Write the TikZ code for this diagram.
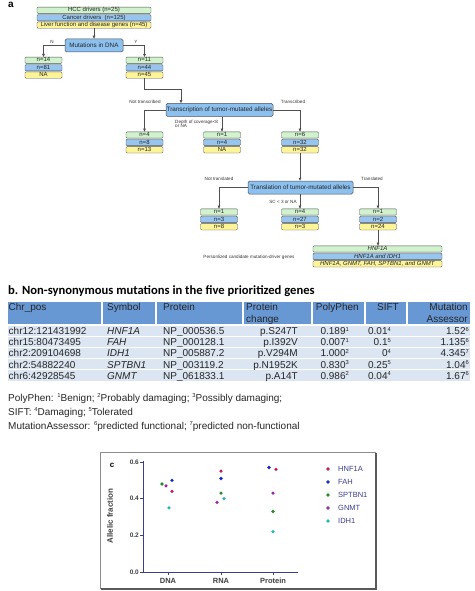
\documentclass[tikz,border=0pt]{standalone}
\usepackage{fontspec}
\setmainfont{Liberation Sans}
\newfontfamily\titlefont{Carlito}
\usetikzlibrary{arrows.meta,positioning}
\definecolor{rowgreen}{RGB}{208,242,204}
\definecolor{rowblue}{RGB}{150,198,240}
\definecolor{rowyellow}{RGB}{252,244,150}
\definecolor{stepblue}{RGB}{140,192,238}
\definecolor{edgegray}{RGB}{80,80,80}
\definecolor{headblue}{RGB}{104,152,212}
\definecolor{cellblue}{RGB}{220,230,242}
\definecolor{axisnavy}{RGB}{58,62,140}
\definecolor{cHNF}{RGB}{190,30,90}
\definecolor{cFAH}{RGB}{20,40,200}
\definecolor{cSPT}{RGB}{40,140,40}
\definecolor{cGNMT}{RGB}{150,40,170}
\definecolor{cIDH}{RGB}{40,180,180}
\newcommand{\setfsz}[1]{\fontsize{#1}{#1}\selectfont}
\newcommand{\tsup}[1]{\raisebox{3.4pt}{\setfsz{5.8}#1}}
% three stacked count rows: green, blue, yellow
\newcommand{\countstack}[6][37pt]{%
  \node[cnt, minimum width=#1, fill=rowgreen] (#2a) at (#3) {#4};
  \node[cnt, minimum width=#1, fill=rowblue, below=0.7pt of #2a] (#2b) {#5};
  \node[cnt, minimum width=#1, fill=rowyellow, below=0.7pt of #2b] (#2c) {#6};}

\begin{document}
\begin{tikzpicture}[x=1pt, y=-1pt,
  cnt/.style={draw=edgegray, line width=0.4pt, rounded corners=1pt, minimum height=6.3pt,
    inner sep=0pt, text height=4.3pt, text depth=1.1pt, font=\setfsz{6}, text=black!85},
  stepbox/.style={draw=edgegray, line width=0.5pt, fill=stepblue, rounded corners=1.5pt,
    minimum height=13pt, inner sep=0pt, font=\setfsz{6.3}, text=black!85},
  link/.style={draw=edgegray, line width=0.6pt, -{Triangle[length=3pt,width=2.6pt]}},
  lbl/.style={inner sep=0pt, font=\setfsz{4.6}, text=black!80},
  cell/.style={inner sep=0pt, font=\setfsz{10}, text=black!85}]
\useasboundingbox (0,0) rectangle (474,591);
% ---- panel a: the filtering tree
\node[inner sep=0pt, font=\bfseries\setfsz{10}] (pa) at (11,5) {a};
\countstack[114pt]{src}{94,10.3}{HCC drivers (n=25)}{Cancer drivers\ \ (n=125)}{Liver function and disease genes (n=45)}
\node[stepbox, minimum width=58pt] (mut) at (94,45.5) {Mutations in DNA};
\countstack{dn}{43.5,60.3}{n=14}{n=81}{NA}
\countstack{dy}{144.5,60.3}{n=11}{n=44}{n=45}
\node[stepbox, minimum width=107pt] (trans) at (219.5,110) {Transcription of tumor-mutated alleles};
\countstack{tn}{144.5,135}{n=4}{n=8}{n=13}
\countstack{td}{222,135}{n=1}{n=4}{NA}
\countstack{ty}{300,135}{n=6}{n=32}{n=32}
\node[stepbox, minimum width=105pt] (transl) at (300.5,187.5) {Translation of tumor-mutated alleles};
\countstack{ln}{219,212}{n=1}{n=3}{n=8}
\countstack{ls}{300,212}{n=4}{n=27}{n=3}
\countstack{ly}{378,212}{n=1}{n=2}{n=24}
\countstack[129pt]{fin}{377.5,249}{\textit{HNF1A}}{\textit{HNF1A and IDH1}}{\textit{HNF1A, GNMT, FAH, SPTBN1, and GNMT}}
% connectors
\draw[link] (srcc.south) -- (mut.north);
\draw[link] (mut.west) -| (dna.north);
\draw[link] (mut.east) -| (dya.north);
\draw[link] (dyc.south) -- ++(0,11) -| ([xshift=-38.5pt]trans.north);
\draw[link] (trans.west) -| (tna.north);
\draw[link] (trans.south -| tda.north) -- (tda.north);
\draw[link] (trans.east) -| (tya.north);
\draw[link] (tyc.south) -- (tyc.south |- transl.north);
\draw[link] (transl.west) -| (lna.north);
\draw[link] (transl.south -| lsa.north) -- (lsa.north);
\draw[link] (transl.east) -| (lya.north);
\draw[link] (lyc.south) -- (lyc.south |- fina.north);
% branch labels
\node[lbl] (lN) at (52,42) {N};
\node[lbl] (lY) at (136,42) {Y};
\node[lbl] (lnotr) at (145,102) {Not transcribed};
\node[lbl] (ltr) at (293,102) {Transcribed};
\node[lbl, anchor=north west, align=left] (ldepth) at (175,119.5) {Depth of coverage\textless 8\\or NA};
\node[lbl] (lnotl) at (219,179) {Not translated};
\node[lbl] (lsc) at (283,202) {SC \textless\ 3 or NA};
\node[lbl] (ltl) at (372,179) {Translated};
\node[lbl] (lpers) at (249,257) {Personlized candidate mutation-driver genes};
% ---- panel b: the table
\node[anchor=base west, inner sep=0pt, font=\titlefont\bfseries\setfsz{12.6}] (pb) at (8,294)
  {b. Non-synonymous mutations in the five prioritized genes};
\fill[headblue] (8,302) rectangle (470,325);
\fill[cellblue] (8,325) rectangle (470,381);
\foreach \x in {102,156,243,312,365,407} {\draw[white, line width=1.5pt] (\x,302) -- (\x,325);}
\draw[white, line width=1.5pt] (8,325) -- (470,325);
\foreach \y in {336.2,347.4,358.6,369.8} {\draw[white, line width=0.7pt] (8,\y) -- (470,\y);}
\node[cell, anchor=base west] (hpos) at (8.5,310) {Chr\_pos};
\node[cell, anchor=base west] (hsym) at (107,310) {Symbol};
\node[cell, anchor=base west] (hprot) at (163,310) {Protein};
\node[cell, anchor=base west] (hchg) at (246,310) {Protein};
\node[cell, anchor=base west] (hchg2) at (246,322) {change};
\node[cell, anchor=base east] (hpp) at (359,310) {PolyPhen};
\node[cell, anchor=base east] (hsift) at (399,310) {SIFT};
\node[cell, anchor=base east] (hma) at (468,310) {Mutation};
\node[cell, anchor=base east] (hma2) at (468,322) {Assessor};
\foreach \pos/\sym/\prot/\chg/\pp/\sf/\ma [count=\i from 0] in {
  chr12:121431992/HNF1A/NP\_000536.5/p.S247T/0.189\tsup{1}/0.01\tsup{4}/1.52\tsup{6},
  chr15:80473495/FAH/NP\_000128.1/p.I392V/0.007\tsup{1}/0.1\tsup{5}/1.135\tsup{6},
  chr2:209104698/IDH1/NP\_005887.2/p.V294M/1.000\tsup{2}/0\tsup{4}/4.345\tsup{7},
  chr2:54882240/SPTBN1/NP\_003119.2/p.N1952K/0.830\tsup{3}/0.25\tsup{5}/1.04\tsup{6},
  chr6:42928545/GNMT/NP\_061833.1/p.A14T/0.986\tsup{2}/0.04\tsup{4}/1.67\tsup{6}} {
  \node[cell, anchor=base west] (r\i pos) at (8.5,334.6+11.15*\i) {\pos};
  \node[cell, anchor=base west] (r\i sym) at (107,334.6+11.15*\i) {\textit{\sym}};
  \node[cell, anchor=base west] (r\i prot) at (163,334.6+11.15*\i) {\prot};
  \node[cell, anchor=base east] (r\i chg) at (298,334.6+11.15*\i) {\chg};
  \node[cell, anchor=base east] (r\i pp) at (349,334.6+11.15*\i) {\pp};
  \node[cell, anchor=base east] (r\i sf) at (391,334.6+11.15*\i) {\sf};
  \node[cell, anchor=base east] (r\i ma) at (469,334.6+11.15*\i) {\ma};
}
\node[cell, anchor=base west] (fn1) at (8,401) {PolyPhen: \tsup{1}Benign; \tsup{2}Probably damaging; \tsup{3}Possibly damaging;};
\node[cell, anchor=base west] (fn2) at (8,415) {SIFT: \tsup{4}Damaging; \tsup{5}Tolerated};
\node[cell, anchor=base west] (fn3) at (8,429) {MutationAssessor: \tsup{6}predicted functional; \tsup{7}predicted non-functional};
% ---- panel c: allelic fractions
\draw[black!45, line width=0.6pt] (100,452) rectangle (375,588);
\draw[black!65, line width=1.6pt] (376,453) -- (376,589) -- (101,589);
\node[inner sep=0pt, font=\bfseries\setfsz{8}] (pc) at (112,465) {c};
\draw[axisnavy, line width=0.8pt] (143,461) -- (143,572) -- (298,572);
\foreach \v in {0.0,0.2,0.4,0.6} {
  \draw[axisnavy, line width=0.8pt] (143,572-183.3*\v) -- ++(-3,0);
  \node[anchor=east, inner sep=0pt, font=\bfseries\setfsz{6.5}, text=black!75] (yt\v) at (139,572-183.3*\v) {\v};
}
\foreach \x/\cat in {168/DNA,221/RNA,273/Protein} {
  \draw[axisnavy, line width=0.8pt] (\x,572) -- ++(0,3);
  \node[inner sep=0pt, font=\bfseries\setfsz{7.5}, text=black!75] (xt\cat) at (\x,580.5) {\cat};
}
\node[rotate=90, inner sep=0pt, font=\bfseries\setfsz{8}, text=black!75] (ylab) at (110,516) {Allelic fraction};
\foreach \col/\xa/\va/\xb/\vb/\xc/\vc/\gene [count=\k from 0] in {
  cHNF/172/0.44/221/0.55/276/0.56/HNF1A,
  cFAH/172/0.50/221/0.51/269/0.57/FAH,
  cSPT/162/0.48/221/0.43/273/0.33/SPTBN1,
  cGNMT/166/0.47/217/0.38/273/0.43/GNMT,
  cIDH/169/0.35/224/0.40/273/0.22/IDH1} {
  \fill[\col] (\xa,572-183.3*\va) circle (1.8);
  \fill[\col] (\xb,572-183.3*\vb) circle (1.8);
  \fill[\col] (\xc,572-183.3*\vc) circle (1.8);
  \fill[\col] (328,469+13*\k) circle (1.8);
  \node[anchor=west, inner sep=0pt, font=\setfsz{7.5}, text=axisnavy] (lg\k) at (338,469+13*\k) {\gene};
}
\end{tikzpicture}
\end{document}
